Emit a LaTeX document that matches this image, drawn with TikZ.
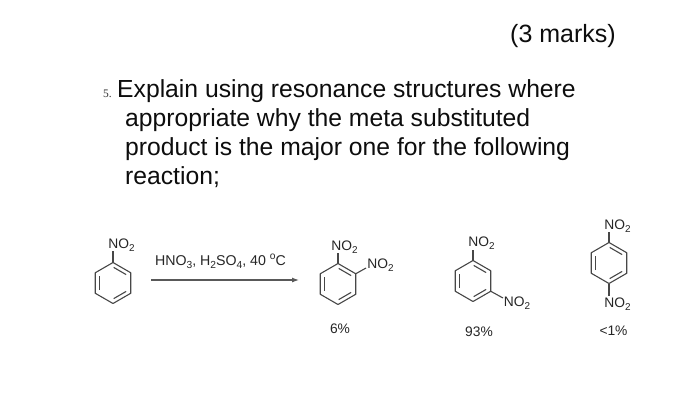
\documentclass[tikz,border=0pt]{standalone}
\usepackage{fontspec}
\setmainfont{Liberation Sans}
\usetikzlibrary{calc,arrows.meta}
\newcommand{\benzring}[3]{% name, cx, cy
  \foreach \i/\a in {1/90,2/30,3/-30,4/-90,5/-150,6/150}{
    \coordinate (#1v\i) at ($(#2,#3)+(\a:20.5 and -20.5)$);
    \coordinate (#1w\i) at ($(#2,#3)+(\a:16 and -16)$);
  }
  \draw[bond] (#1v1)--(#1v2)--(#1v3)--(#1v4)--(#1v5)--(#1v6)--cycle;
  \draw[bond] ($(#1w1)!.05!(#1w2)$)--($(#1w2)!.05!(#1w1)$);
  \draw[bond] ($(#1w3)!.05!(#1w4)$)--($(#1w4)!.05!(#1w3)$);
  \draw[bond] ($(#1w5)!.05!(#1w6)$)--($(#1w6)!.05!(#1w5)$);
}
\tikzset{
  x=1pt,y=-1pt,
  bond/.style={draw=black!72,line width=1.1pt,line join=round},
  chem/.style={inner sep=0pt,font=\fontsize{13.8}{16}\selectfont,text=black!85,anchor=center},
  qtext/.style={inner sep=0pt,anchor=base west,font=\fontsize{24.7}{29}\selectfont,text=black!95},
  arrowline/.style={draw=black!65,line width=1.2pt,-{Latex[length=7pt,width=5pt]}}
}
\newcommand{\subs}[1]{\raisebox{-0.22em}{\scalebox{0.72}{#1}}}
\newcommand{\nitro}{NO\subs{2}}
\begin{document}
\begin{tikzpicture}
\useasboundingbox[fill=white] (0,0) rectangle (700,405);
\node[qtext,font=\fontsize{25}{29}\selectfont] (marks) at (510,42) {(3 marks)};
\node[inner sep=0pt,anchor=base west,font=\fontsize{11.5}{13}\selectfont,text=black!80] (num) at (103,97) {\fontspec{Liberation Serif}5.};
\node[qtext] (l1) at (117,97) {Explain using resonance structures where};
\node[qtext] (l2) at (125,126) {appropriate why the meta substituted};
\node[qtext] (l3) at (125,155) {product is the major one for the following};
\node[qtext] (l4) at (125,184) {reaction;};

\benzring{a}{113}{283}
\node[chem] (an) at (121.5,245.5) {\nitro};
\coordinate (ab) at (113,251);
\draw[bond] (av1)--(ab);

\node[chem,font=\fontsize{14.2}{16}\selectfont] (cond) at (220.5,261.5) {HNO\subs{3}, H\subs{2}SO\subs{4}, 40 \raisebox{0.38em}{\scalebox{0.72}{o}}C};
\coordinate (arrS) at (151,280);
\coordinate (arrE) at (299,280);
\draw[arrowline] (arrS)--(arrE);

\benzring{b}{338}{284}
\node[chem] (bn1) at (344.5,247.5) {\nitro};
\node[chem] (bn2) at (380.5,265.5) {\nitro};
\coordinate (bb1) at (338,253);
\coordinate (bb2) at (366,268);
\draw[bond] (bv1)--(bb1);
\draw[bond] (bv2)--(bb2);
\node[chem] (bp) at (340,329) {6\%};

\benzring{c}{473}{281}
\node[chem] (cn1) at (481.5,243.5) {\nitro};
\node[chem] (cn2) at (517,303.5) {\nitro};
\coordinate (cb1) at (473,250);
\coordinate (cb2) at (503,298);
\draw[bond] (cv1)--(cb1);
\draw[bond] (cv3)--(cb2);
\node[chem] (cp) at (479,332) {93\%};

\benzring{d}{609}{263}
\node[chem] (dn1) at (617.5,226) {\nitro};
\node[chem] (dn2) at (617.5,304.5) {\nitro};
\coordinate (db1) at (609,232);
\coordinate (db2) at (609,296);
\draw[bond] (dv1)--(db1);
\draw[bond] (dv4)--(db2);
\node[chem] (dp) at (613.5,331) {<1\%};
\end{tikzpicture}
\end{document}
